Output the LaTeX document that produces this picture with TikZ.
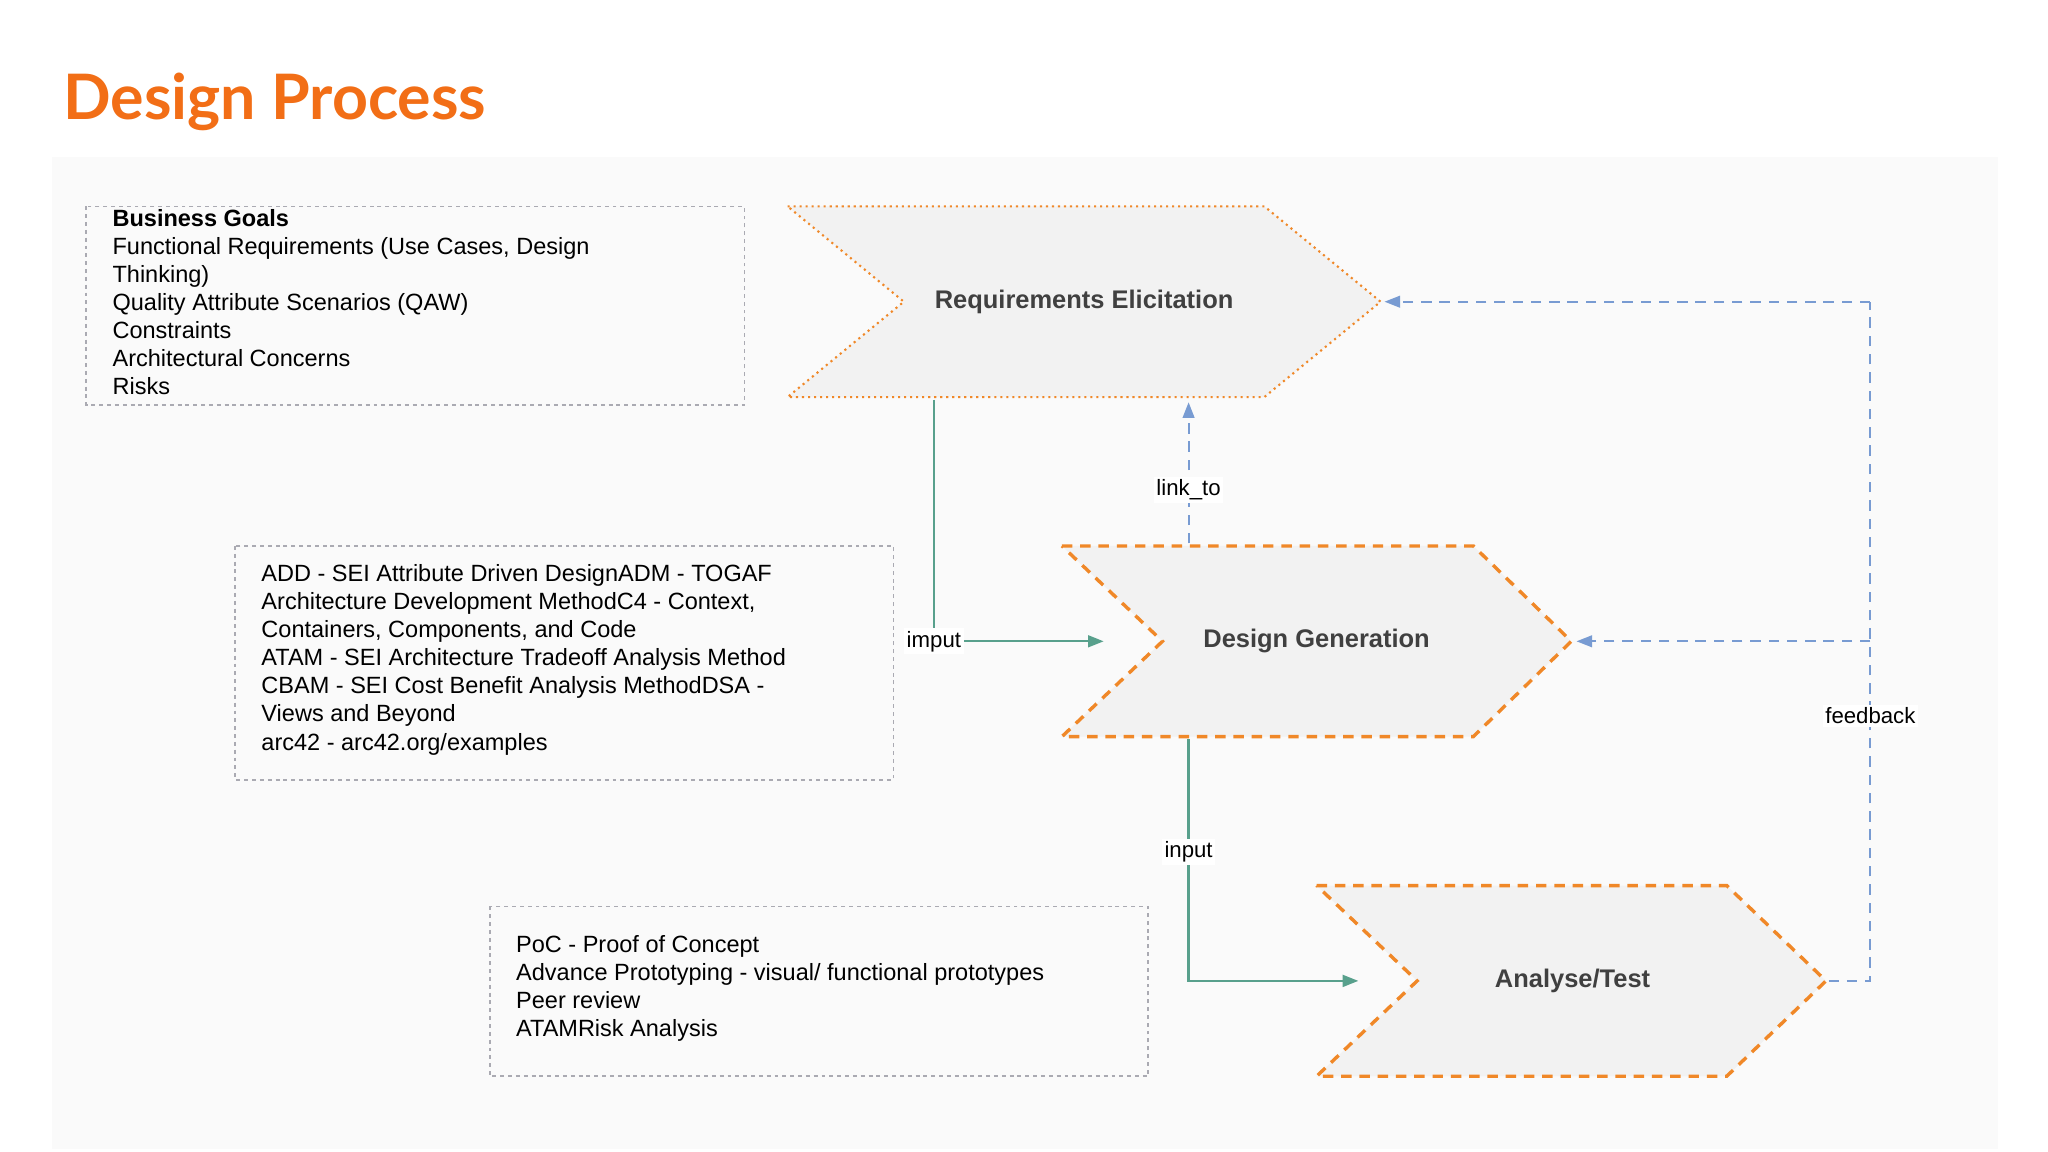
\documentclass[tikz,border=0pt]{standalone}
\usepackage{fontspec}
\setmainfont{Liberation Sans}
\newfontfamily\titlefont{Lato}
\usetikzlibrary{arrows.meta}
\definecolor{org}{RGB}{242,110,22}
\definecolor{chev}{RGB}{240,136,40}
\definecolor{grn}{RGB}{88,160,140}
\definecolor{blu}{RGB}{120,155,210}
\definecolor{gbox}{RGB}{170,170,178}
\definecolor{cfill}{RGB}{242,242,242}
\begin{document}
\begin{tikzpicture}[x=1pt,y=-1pt,
 txt/.style={align=left,anchor=north west,inner sep=0,font=\fontsize{18}{21.5}\selectfont},
 box/.style={draw=gbox,dashed,line width=1.2pt},
 gline/.style={draw=grn,line width=1.8pt,-{Triangle[length=12pt,width=9pt]}},
 bline/.style={draw=blu,dashed,dash pattern=on 8pt off 6pt,line width=1.4pt},
 lbl/.style={fill=white,inner sep=2pt,font=\fontsize{17}{20}\selectfont},
 ctext/.style={font=\bfseries\fontsize{19.5}{22}\selectfont,text=black!75}]
\useasboundingbox (0,0) rectangle (1568,882);
\fill[white] (0,0) rectangle (1568,882);
\fill[black!2] (40,120) rectangle (1530,880);
\node[anchor=west,text=org,font=\titlefont\bfseries\fontsize{48}{52}\selectfont] (title) at (45,78) {Design Process};
% boxes
\draw[box] (66,158) rectangle (570,310);
\node[txt] (b1) at (86,160) {\textbf{Business Goals}\\Functional Requirements (Use Cases, Design\\Thinking)\\Quality Attribute Scenarios (QAW)\\Constraints\\Architectural Concerns\\Risks};
\draw[box] (180,418) rectangle (684,597);
\node[txt] (b2) at (200,432) {ADD - SEI Attribute Driven DesignADM - TOGAF\\Architecture Development MethodC4 - Context,\\Containers, Components, and Code\\ATAM - SEI Architecture Tradeoff Analysis Method\\CBAM - SEI Cost Benefit Analysis MethodDSA -\\Views and Beyond\\arc42 - arc42.org/examples};
\draw[box] (375,694) rectangle (879,824);
\node[txt] (b3) at (395,716) {PoC - Proof of Concept\\Advance Prototyping - visual/ functional prototypes\\Peer review\\ATAMRisk Analysis};
% chevrons
\draw[chev,fill=cfill,line width=1.6pt,dash pattern=on 1.6pt off 3pt] (603,158)--(968,158)--(1057,231)--(968,304)--(603,304)--(692,231)--cycle;
\node[ctext] (req) at (830,231) {Requirements Elicitation};
\draw[chev,fill=cfill,line width=2.6pt,dash pattern=on 8pt off 6pt] (813,418)--(1128,418)--(1203,491)--(1128,564)--(813,564)--(890,491)--cycle;
\node[ctext] (des) at (1008,491) {Design Generation};
\draw[chev,fill=cfill,line width=2.6pt,dash pattern=on 8pt off 6pt] (1008,678)--(1322,678)--(1398,751)--(1322,824)--(1008,824)--(1085,751)--cycle;
\node[ctext] (ana) at (1204,751) {Analyse/Test};
% anchor coordinates
\coordinate (reqB) at (715,306);
\coordinate (reqBot) at (910,308);
\coordinate (reqTip) at (1060,231);
\coordinate (desL) at (845,491);
\coordinate (desTop) at (910,416);
\coordinate (desB) at (910,566);
\coordinate (desTip) at (1207,491);
\coordinate (anaL) at (1040,751);
\coordinate (anaTip) at (1400,751);
\coordinate (fbC) at (1432,751);
\coordinate (fbM) at (1432,491);
\coordinate (fbT) at (1432,231);
% connectors
\draw[gline] (reqB) |- (desL) node[lbl,pos=0.5] at (716,400) {imput};
\draw[gline] (desB) |- (anaL);
\node[lbl] (l2) at (910,652) {input};
\draw[bline,-{Triangle[length=12pt,width=9pt]}] (desTop) -- (reqBot);
\node[lbl] (l3) at (910,375) {link\_to};
\draw[bline] (anaTip) -- (fbC) -- (fbT);
\draw[bline,-{Triangle[length=12pt,width=9pt]}] (fbT) -- (reqTip);
\draw[bline,-{Triangle[length=12pt,width=9pt]}] (fbM) -- (desTip);
\node[lbl] (l4) at (1432,548) {feedback};
\end{tikzpicture}
\end{document}
